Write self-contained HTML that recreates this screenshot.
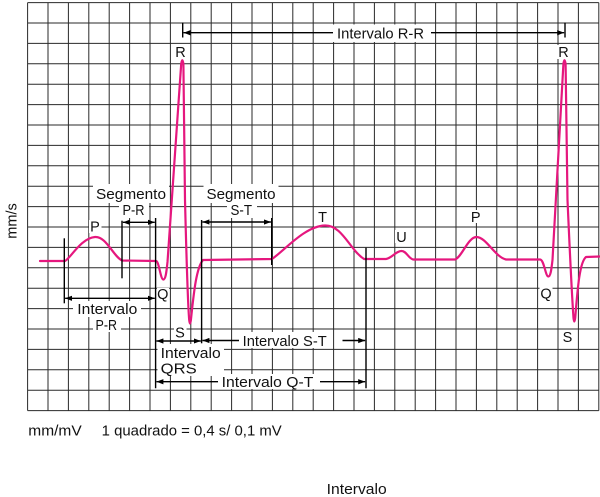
<!DOCTYPE html>
<html><head><meta charset="utf-8"><style>
html,body{margin:0;padding:0;background:#fff;}
svg{display:block;}
text{font-family:"Liberation Sans",Arial,sans-serif;font-size:14.5px;fill:#111;}
</style></head><body>
<svg width="600" height="497" viewBox="0 0 600 497" xmlns="http://www.w3.org/2000/svg">
<defs>
<marker id="ah" viewBox="0 0 8 6" refX="8" refY="3" markerWidth="7" markerHeight="5.5" markerUnits="userSpaceOnUse" orient="auto-start-reverse"><path d="M0,0 L8,3 L0,6 z" fill="#000"/></marker>
</defs>
<rect width="600" height="497" fill="#fff"/>
<!-- grid -->
<path fill="none" stroke="#2a2a2a" stroke-width="1" d="
M27.6 2.6V410.6 M48 2.6V410.6 M68.4 2.6V410.6 M88.8 2.6V410.6 M109.2 2.6V410.6 M129.6 2.6V410.6 M150 2.6V410.6 M170.4 2.6V410.6 M190.8 2.6V410.6 M211.2 2.6V410.6 M231.6 2.6V410.6 M252 2.6V410.6 M272.4 2.6V410.6 M292.8 2.6V410.6 M313.2 2.6V410.6 M333.6 2.6V410.6 M354 2.6V410.6 M374.4 2.6V410.6 M394.8 2.6V410.6 M415.2 2.6V410.6 M435.6 2.6V410.6 M456 2.6V410.6 M476.4 2.6V410.6 M496.8 2.6V410.6 M517.2 2.6V410.6 M537.6 2.6V410.6 M558 2.6V410.6 M578.4 2.6V410.6 M598.8 2.6V410.6
M27.6 2.6H598.8 M27.6 23H598.8 M27.6 43.4H598.8 M27.6 63.8H598.8 M27.6 84.2H598.8 M27.6 104.6H598.8 M27.6 125H598.8 M27.6 145.4H598.8 M27.6 165.8H598.8 M27.6 186.2H598.8 M27.6 206.6H598.8 M27.6 227H598.8 M27.6 247.4H598.8 M27.6 267.8H598.8 M27.6 288.2H598.8 M27.6 308.6H598.8 M27.6 329H598.8 M27.6 349.4H598.8 M27.6 369.8H598.8 M27.6 390.2H598.8 M27.6 410.6H598.8"/>
<!-- white label boxes -->
<g fill="#fff">
<rect x="333" y="24.5" width="98" height="17.5"/>
<rect x="174" y="45" width="13" height="14"/>
<rect x="557" y="45" width="13" height="14"/>
<rect x="93" y="184" width="76" height="19"/>
<rect x="119" y="203" width="30" height="15"/>
<rect x="203.5" y="184" width="75" height="19"/>
<rect x="227" y="203" width="30" height="15"/>
<rect x="89" y="220" width="12.5" height="13"/>
<rect x="316" y="210" width="13.5" height="13"/>
<rect x="395" y="230" width="13" height="13"/>
<rect x="469.5" y="210" width="12.5" height="13"/>
<rect x="157" y="288" width="12" height="13"/>
<rect x="539.5" y="287" width="13" height="14"/>
<rect x="174" y="326" width="12.5" height="13"/>
<rect x="561" y="330" width="13" height="14"/>
<rect x="73" y="301" width="68" height="16"/>
<rect x="93" y="317" width="28" height="15"/>
<rect x="157.5" y="344" width="66.5" height="32"/>
<rect x="239" y="332" width="92" height="16"/>
<rect x="218" y="374" width="100" height="15"/>
</g>
<!-- ECG trace -->
<path fill="none" stroke="#e5177e" stroke-width="2.2" stroke-linejoin="round" stroke-linecap="round" d="
M40,261 L65,261 C70,259 81,238 95,237 C106,236 113,256 122,260.5 L156,261
C159,261 160.5,279.5 163.3,279.5 C165.8,279.5 166.5,271 167.5,262 L181.2,64 Q182.3,56.5 183.4,64
L185,200 Q187.5,300 189.2,320 Q190,327 190.9,320 C193.5,296 196,268 203,260 L272,259
C285,250 305,226 325,225.5 C342,225 350,250 364,259 L386,259
C392,258 396,251 401.5,251 C406.5,251 408,258 413,259.5 L455,259.5
C462,257 468,237 476.5,237 C486,237 495,257 506,259.5 L540,259.5
C544,259.5 545.5,276.5 548.3,276.5 C550.8,276.5 551.5,268 552.5,260 L563.4,64 Q564.5,56.5 565.6,64
L567.5,200 Q571.5,290 573.5,318 Q574.3,325 575.2,318 C577.5,290 579.5,262 586,257 L600,256.5"/>
<!-- annotation lines -->
<g stroke="#000" stroke-width="1.4" fill="none">
<line x1="182.7" y1="22.5" x2="182.7" y2="37.5"/>
<line x1="565" y1="22.5" x2="565" y2="37.5"/>
<line x1="333" y1="32.7" x2="183.5" y2="32.7" marker-end="url(#ah)"/>
<line x1="431" y1="32.7" x2="564.2" y2="32.7" marker-end="url(#ah)"/>
<line x1="64.3" y1="238.3" x2="64.3" y2="303.3"/>
<line x1="122" y1="220.7" x2="122" y2="278.3"/>
<line x1="155.6" y1="218" x2="155.6" y2="388.3"/>
<line x1="201.6" y1="220" x2="201.6" y2="343.3"/>
<line x1="271.7" y1="218" x2="271.7" y2="265"/>
<line x1="366" y1="247.7" x2="366" y2="388.3"/>
<line x1="122.8" y1="222.3" x2="154.8" y2="222.3" marker-start="url(#ah)" marker-end="url(#ah)"/>
<line x1="202.4" y1="222" x2="270.9" y2="222" marker-start="url(#ah)" marker-end="url(#ah)"/>
<line x1="65.1" y1="298.3" x2="154.8" y2="298.3" marker-start="url(#ah)" marker-end="url(#ah)"/>
<line x1="156.4" y1="341" x2="200.8" y2="341" marker-start="url(#ah)" marker-end="url(#ah)"/>
<line x1="239" y1="340.5" x2="202.4" y2="340.5" marker-end="url(#ah)"/>
<line x1="342.5" y1="340.5" x2="365.2" y2="340.5" marker-end="url(#ah)"/>
<line x1="218" y1="381.7" x2="156.4" y2="381.7" marker-end="url(#ah)"/>
<line x1="320" y1="381.7" x2="365.2" y2="381.7" marker-end="url(#ah)"/>
</g>
<!-- text -->
<text x="337" y="38.4" textLength="87" lengthAdjust="spacingAndGlyphs">Intervalo R-R</text>
<text x="180.5" y="57" text-anchor="middle">R</text>
<text x="563.5" y="57" text-anchor="middle">R</text>
<text x="96" y="199" textLength="70" lengthAdjust="spacingAndGlyphs">Segmento</text>
<text x="122.5" y="215" textLength="22" lengthAdjust="spacingAndGlyphs">P-R</text>
<text x="206.5" y="199" textLength="69" lengthAdjust="spacingAndGlyphs">Segmento</text>
<text x="230.5" y="215" textLength="21.5" lengthAdjust="spacingAndGlyphs">S-T</text>
<text x="95" y="231.7" text-anchor="middle">P</text>
<text x="322.6" y="222" text-anchor="middle">T</text>
<text x="401.5" y="242" text-anchor="middle">U</text>
<text x="475.7" y="222" text-anchor="middle">P</text>
<text x="162.8" y="299" text-anchor="middle">Q</text>
<text x="546" y="298.5" text-anchor="middle">Q</text>
<text x="180" y="337.3" text-anchor="middle">S</text>
<text x="567.5" y="342" text-anchor="middle">S</text>
<text x="77.3" y="314" textLength="60" lengthAdjust="spacingAndGlyphs">Intervalo</text>
<text x="95.5" y="329.8" textLength="21.5" lengthAdjust="spacingAndGlyphs">P-R</text>
<text x="160.7" y="358" textLength="60" lengthAdjust="spacingAndGlyphs">Intervalo</text>
<text x="160.7" y="373.5" textLength="36" lengthAdjust="spacingAndGlyphs">QRS</text>
<text x="242.7" y="346" textLength="84" lengthAdjust="spacingAndGlyphs">Intervalo S-T</text>
<text x="221.7" y="386.8" textLength="91.6" lengthAdjust="spacingAndGlyphs">Intervalo Q-T</text>
<text x="28.3" y="435.5" textLength="53.4" lengthAdjust="spacingAndGlyphs">mm/mV</text>
<text x="101.7" y="435.5" textLength="180" lengthAdjust="spacingAndGlyphs">1 quadrado = 0,4 s/ 0,1 mV</text>
<text x="326.7" y="494" textLength="60" lengthAdjust="spacingAndGlyphs">Intervalo</text>
<text transform="translate(16.5,221) rotate(-90)" text-anchor="middle">mm/s</text>
</svg>
</body></html>
